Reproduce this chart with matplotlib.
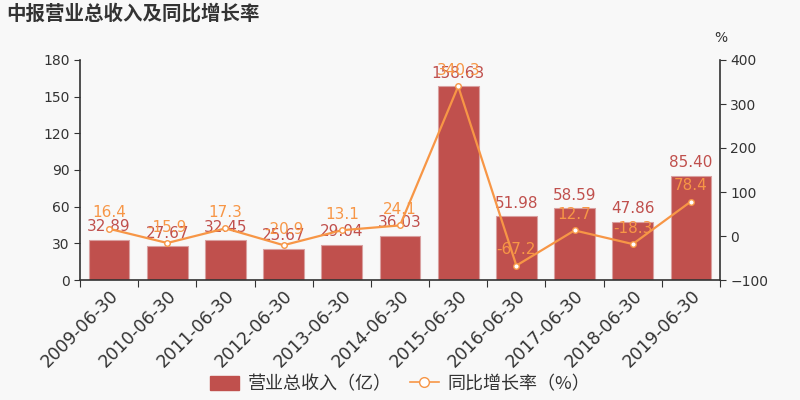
import matplotlib
matplotlib.use("Agg")
import matplotlib.pyplot as plt
from matplotlib.lines import Line2D
import numpy as np

plt.rcParams['font.family'] = ['DejaVu Sans', 'Noto Sans CJK SC']

categories = ['2009-06-30', '2010-06-30', '2011-06-30', '2012-06-30', '2013-06-30',
              '2014-06-30', '2015-06-30', '2016-06-30', '2017-06-30', '2018-06-30', '2019-06-30']
revenue = [32.89, 27.67, 32.45, 25.67, 29.04, 36.03, 158.63, 51.98, 58.59, 47.86, 85.40]
growth = [16.4, -15.9, 17.3, -20.9, 13.1, 24.1, 340.3, -67.2, 12.7, -18.3, 78.4]

bar_color = '#c0504d'
line_color = '#f79646'
bg = '#f8f8f8'
txt = '#333333'

fig = plt.figure(figsize=(8, 4), dpi=100, facecolor=bg)
ax = fig.add_axes([0.1, 0.3, 0.8, 0.55], facecolor=bg)
ax2 = ax.twinx()

x = np.arange(len(categories))
ax.bar(x, revenue, width=0.7, color=bar_color, edgecolor='#d9a0a0', linewidth=0.8, zorder=2)
ax.set_xlim(-0.5, len(categories) - 0.5)
ax.set_ylim(0, 180)
ax.set_yticks([0, 30, 60, 90, 120, 150, 180])

for xi, v in zip(x, revenue):
    ax.annotate(f'{v:.2f}', (xi, v), xytext=(0, 4), textcoords='offset points',
                ha='center', va='bottom', color=bar_color, fontsize=11, zorder=5)

ax2.plot(x, growth, color=line_color, linewidth=1.6, marker='o', markersize=4,
         markerfacecolor='white', markeredgecolor=line_color, markeredgewidth=1, zorder=4)
ax2.set_ylim(-100, 400)
ax2.set_yticks([-100, 0, 100, 200, 300, 400])
for xi, v in zip(x, growth):
    ax2.annotate(f'{v:.1f}', (xi, v), xytext=(0, 6), textcoords='offset points',
                 ha='center', va='bottom', color=line_color, fontsize=11, zorder=6)

# x axis ticks at category boundaries, labels at centers
ax.set_xticks(np.arange(-0.5, len(categories), 1.0))
ax.set_xticklabels([])
ax.set_xticks(x, minor=True)
ax.set_xticklabels(categories, minor=True, rotation=45, ha='right', rotation_mode='anchor',
                   fontsize=12.5, color=txt)
ax.tick_params(axis='x', which='minor', length=0, pad=5)
ax.tick_params(axis='x', which='major', length=5, color=txt)

for a in (ax, ax2):
    for s in a.spines.values():
        s.set_visible(False)
ax.spines['left'].set_visible(True)
ax.spines['bottom'].set_visible(True)
ax2.spines['right'].set_visible(True)
for s in (ax.spines['left'], ax.spines['bottom'], ax2.spines['right']):
    s.set_color(txt)
    s.set_linewidth(1.2)

ax.tick_params(axis='y', labelsize=10, colors=txt, length=4)
ax2.tick_params(axis='y', labelsize=10, colors=txt, length=4)

fig.text(0.893, 0.905, '%', fontsize=10, color=txt, ha='left', va='center')
fig.text(0.008, 0.965, '中报营业总收入及同比增长率', fontsize=14, fontweight='bold',
         color=txt, ha='left', va='center', family=['Noto Sans CJK SC', 'DejaVu Sans'])

handles = [plt.Rectangle((0, 0), 1, 1, color=bar_color),
           Line2D([0], [0], color=line_color, marker='o', markerfacecolor='white',
                  markeredgecolor=line_color, markersize=7, linewidth=1.2)]
leg = fig.legend(handles, ['营业总收入（亿）', '同比增长率（%）'], loc='center',
                 bbox_to_anchor=(0.5, 0.04), ncol=2, frameon=False,
                 handlelength=1.6, handleheight=0.8, handletextpad=0.5, columnspacing=1.0,
                 prop={'family': ['Noto Sans CJK SC', 'DejaVu Sans'], 'size': 13})
for t in leg.get_texts():
    t.set_color(txt)

fig.savefig('out.png', dpi=100, facecolor=bg)
